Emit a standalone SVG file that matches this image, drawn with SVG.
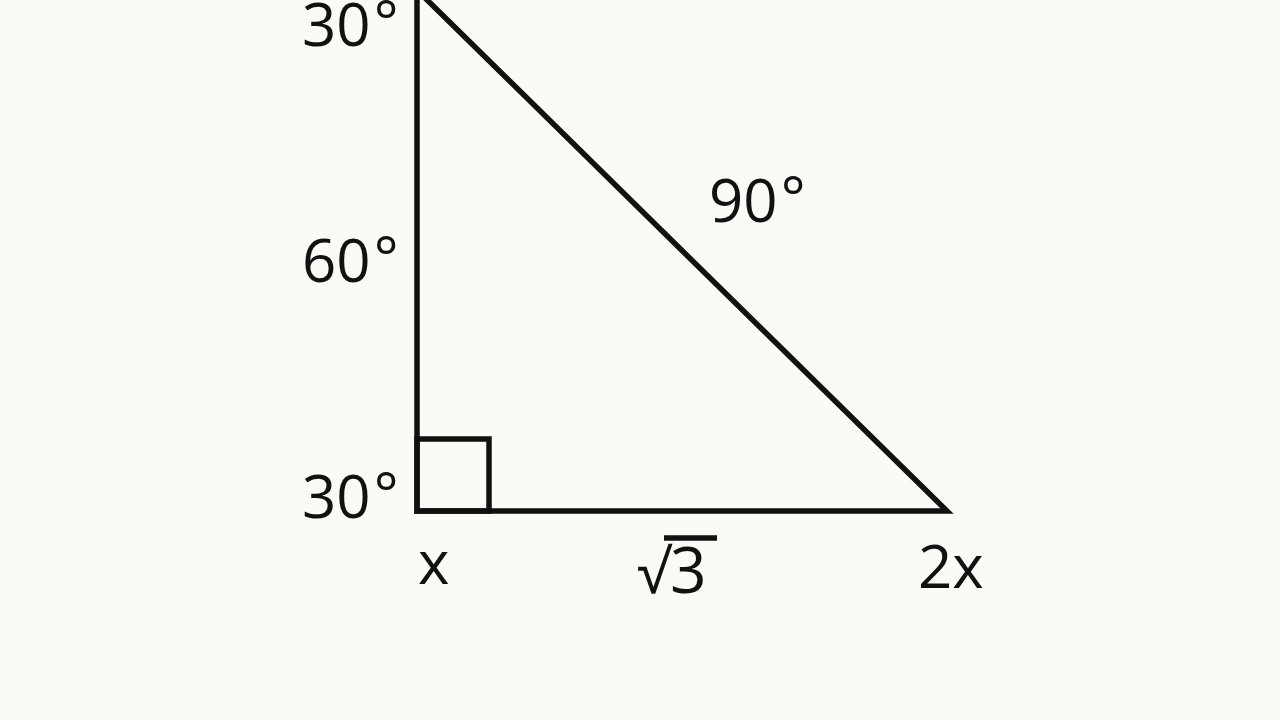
<svg xmlns="http://www.w3.org/2000/svg" width="1280" height="720" viewBox="0 0 1280 720">
<style>
.t{font-family:"Open Sans","Noto Sans",sans-serif;font-size:60px;fill:#111}
.d{font-size:58px}
.s{fill:none;stroke:#111;stroke-width:5.5;stroke-linejoin:miter}
</style>
<rect width="1280" height="720" fill="#fbfaf7"/>
<g id="triangle">
<path class="s" d="M417,-10 L417,511 L947,511 Z"/>
<rect class="s" x="417" y="439" width="72" height="72"/>
</g>
<g id="labels">
<text class="t" x="302" y="46">30<tspan class="d" dx="3" dy="-3">°</tspan></text>
<text class="t" x="302" y="282">60<tspan class="d" dx="3" dy="-3">°</tspan></text>
<text class="t" x="302" y="518">30<tspan class="d" dx="3" dy="-3">°</tspan></text>
<text class="t" x="709" y="222">90<tspan class="d" dx="3" dy="-3">°</tspan></text>
<text class="t" x="418" y="584">x</text>
<text class="t" x="637" y="593">√<tspan font-size="64">3</tspan></text>
<line class="s" x1="664" y1="538" x2="717" y2="538" stroke-width="4.5"/>
<text class="t" x="918" y="588">2x</text>
</g>
</svg>
